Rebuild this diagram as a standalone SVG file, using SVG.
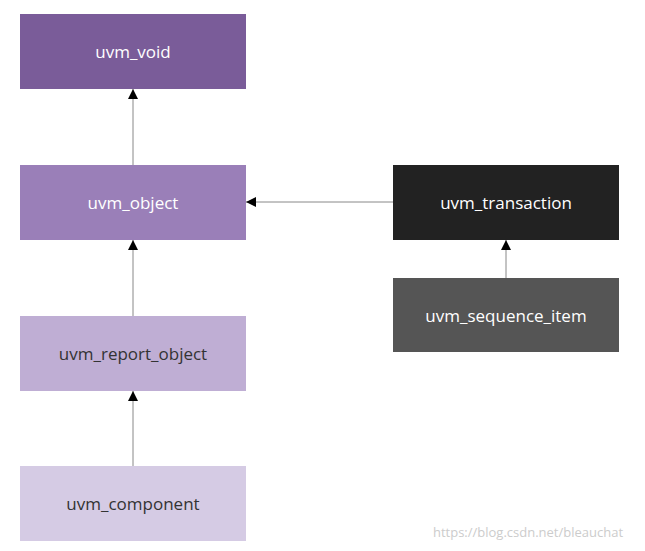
<svg xmlns="http://www.w3.org/2000/svg" width="645" height="551" viewBox="0 0 645 551">
<style>
text{font-family:"Open Sans","Noto Sans",sans-serif;font-size:17px;fill:#fff;text-anchor:middle;dominant-baseline:central}
.c line{stroke:#888;stroke-width:1}
</style>
<defs><marker id="a" viewBox="0 0 10 10" refX="10" refY="5" markerWidth="10" markerHeight="10" markerUnits="userSpaceOnUse" orient="auto"><path d="M0,0L10,5L0,10z" fill="#000"/></marker></defs>
<rect width="645" height="551" fill="#fff"/>
<g id="uvm_void"><rect x="20" y="14" width="226" height="75" fill="#7a5c99"/><text x="133" y="51">uvm_void</text></g>
<g id="uvm_object"><rect x="20" y="165" width="226" height="75" fill="#9a7fb8"/><text x="133" y="202">uvm_object</text></g>
<g id="uvm_report_object"><rect x="20" y="316" width="226" height="75" fill="#bfaed4"/><text x="133" y="353" style="fill:#333">uvm_report_object</text></g>
<g id="uvm_component"><rect x="20" y="466" width="226" height="75" fill="#d5cbe4"/><text x="133" y="503" style="fill:#333">uvm_component</text></g>
<g id="uvm_transaction"><rect x="393" y="165" width="226" height="75" fill="#222"/><text x="506" y="202">uvm_transaction</text></g>
<g id="uvm_sequence_item"><rect x="393" y="278" width="226" height="74" fill="#555"/><text x="506" y="315">uvm_sequence_item</text></g>
<g class="c">
<line x1="133" y1="165" x2="133" y2="89" marker-end="url(#a)"/>
<line x1="133" y1="316" x2="133" y2="240" marker-end="url(#a)"/>
<line x1="133" y1="466" x2="133" y2="391" marker-end="url(#a)"/>
<line x1="393" y1="202" x2="246" y2="202" marker-end="url(#a)"/>
<line x1="506" y1="278" x2="506" y2="240" marker-end="url(#a)"/>
</g>
<text x="528" y="532" style="fill:#ccc;font-size:13px">https://blog.csdn.net/bleauchat</text>
</svg>
